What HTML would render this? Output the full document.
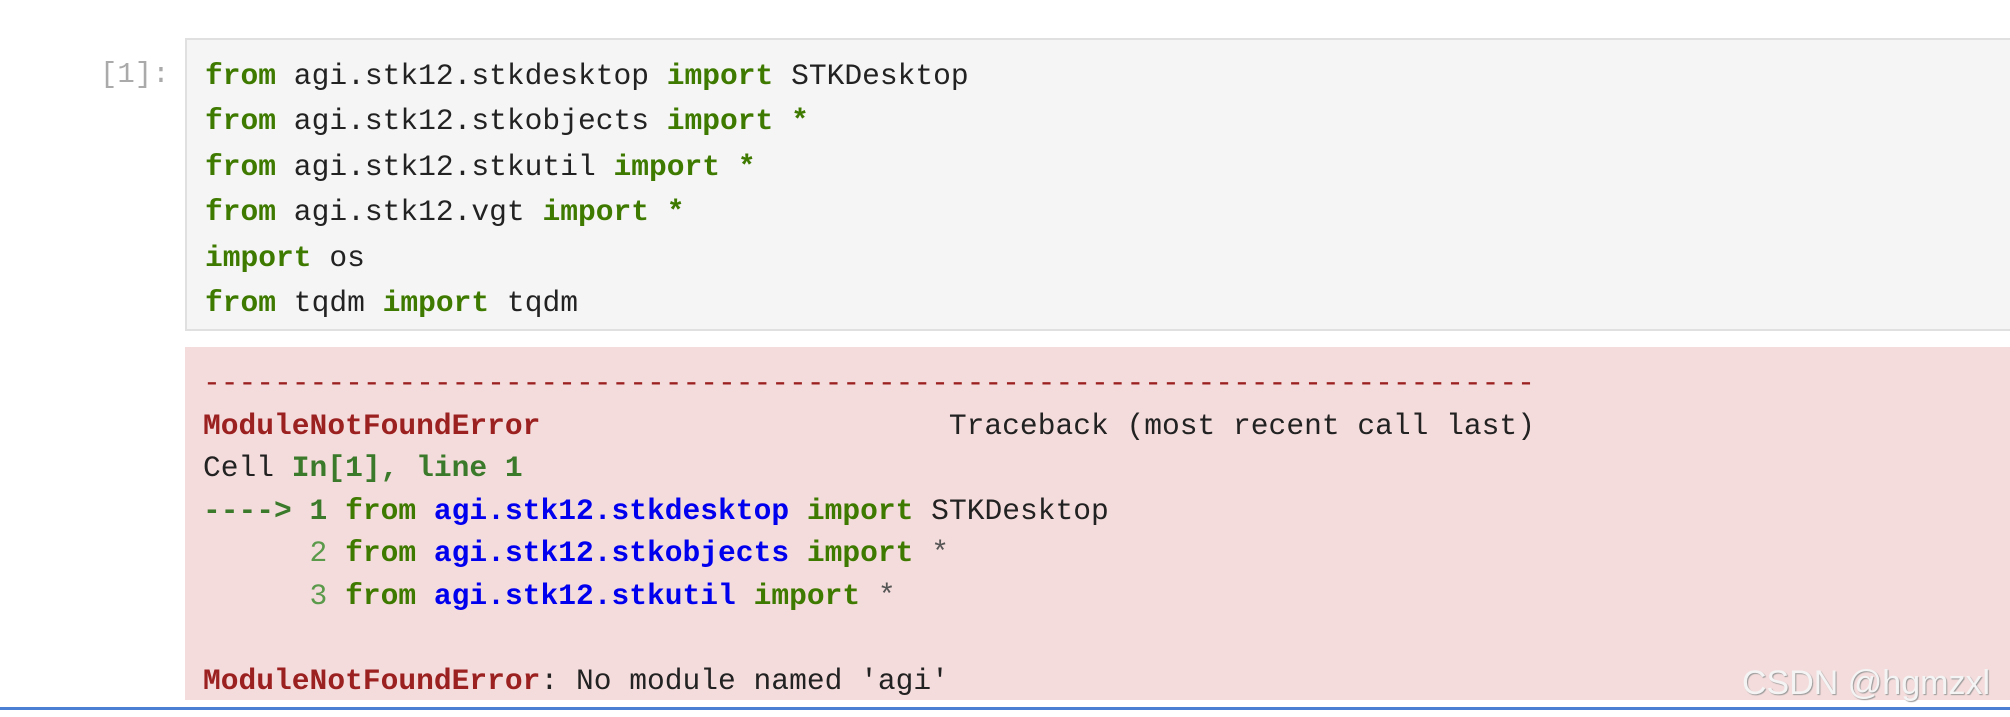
<!DOCTYPE html>
<html><head><meta charset="utf-8"><style>
html,body{margin:0;padding:0;width:2010px;height:717px;background:#fff;overflow:hidden;position:relative;font-family:"Liberation Mono",monospace;}
.prompt{position:absolute;left:100px;top:52px;font-size:29px;color:#aaa;line-height:45px;}
.code{position:absolute;left:185px;top:38px;width:1830px;height:293px;background:#f5f5f5;border:2px solid #e0e0e0;box-sizing:border-box;}
.err{position:absolute;left:185px;top:347px;width:1830px;height:353px;background:#f5dcdc;}
pre{margin:0;font-family:"Liberation Mono",monospace;font-size:29.6px;position:absolute;left:18px;color:#222;}
.code pre{top:14px;line-height:45.4px;}
.err pre{top:15px;line-height:42.6px;}
.k{color:#3f7a00;font-weight:bold}
.r{color:#9b2020;font-weight:bold}
.b{color:#0000ee;font-weight:bold}
.g{color:#3a7a2a;font-weight:bold}
.ln{color:#5a9a4a}
.s{color:#555}
.line{position:absolute;left:0;top:707px;width:2010px;height:3px;background:#4a7fd4;}
.wm{position:absolute;left:1742px;top:664px;white-space:nowrap;font-family:"Liberation Sans",sans-serif;font-size:34px;color:#f4f4f4;text-shadow:1px 1px 1px #999;}
</style></head><body>
<div class="prompt">[1]:</div>
<div class="code"><pre><span class="k">from</span> agi.stk12.stkdesktop <span class="k">import</span> STKDesktop
<span class="k">from</span> agi.stk12.stkobjects <span class="k">import</span> <span class="k">*</span>
<span class="k">from</span> agi.stk12.stkutil <span class="k">import</span> <span class="k">*</span>
<span class="k">from</span> agi.stk12.vgt <span class="k">import</span> <span class="k">*</span>
<span class="k">import</span> os
<span class="k">from</span> tqdm <span class="k">import</span> tqdm</pre></div>
<div class="err"><pre><span style="color:#9b2020">---------------------------------------------------------------------------</span>
<span class="r">ModuleNotFoundError</span>                       Traceback (most recent call last)
Cell <span class="g">In[1], line 1</span>
<span class="g">----&gt; 1</span> <span class="k">from</span> <span class="b">agi.stk12.stkdesktop</span> <span class="k">import</span> STKDesktop
<span class="ln">      2</span> <span class="k">from</span> <span class="b">agi.stk12.stkobjects</span> <span class="k">import</span> <span class="s">*</span>
<span class="ln">      3</span> <span class="k">from</span> <span class="b">agi.stk12.stkutil</span> <span class="k">import</span> <span class="s">*</span>

<span class="r">ModuleNotFoundError</span>: No module named 'agi'</pre></div>
<div class="line"></div>
<div class="wm">CSDN @hgmzxl</div>
</body></html>
